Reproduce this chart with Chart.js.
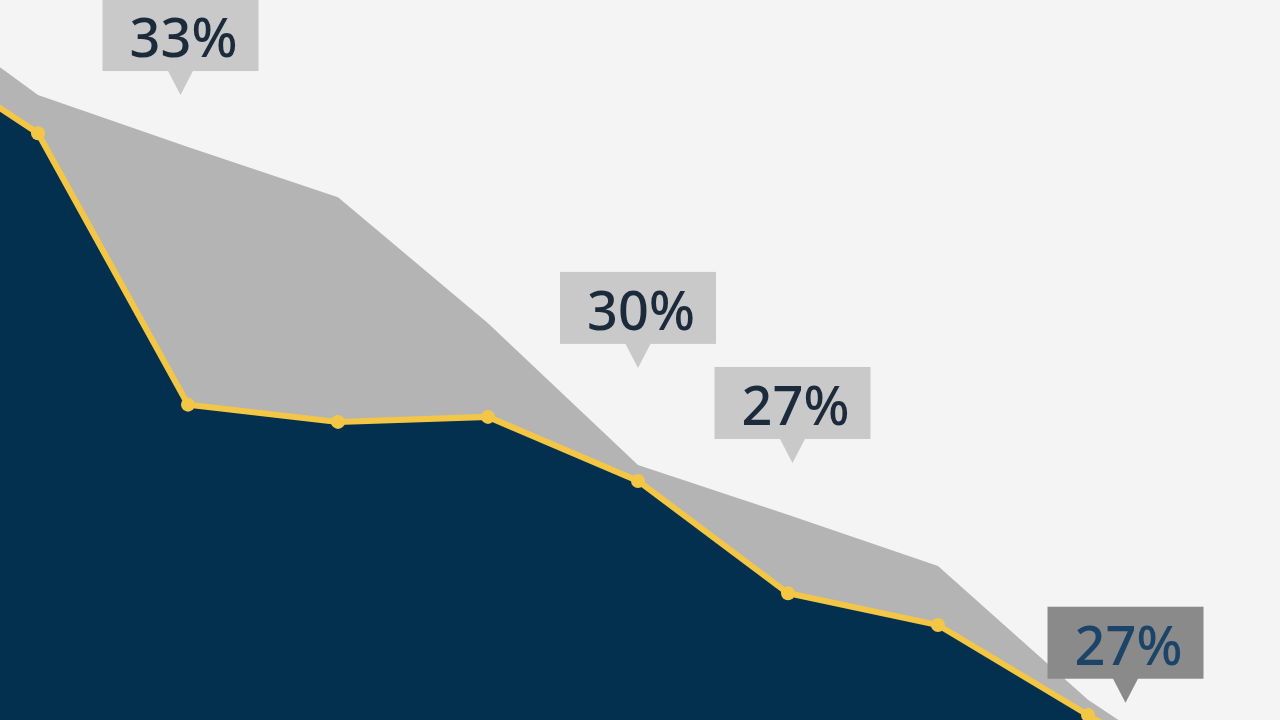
<!DOCTYPE html>
<html>
<head>
<meta charset="utf-8">
<script src="https://cdn.jsdelivr.net/npm/chart.js@4"></script>
<style>
  html, body { margin: 0; padding: 0; background: #f4f4f4; }
  #wrap { width: 1280px; height: 720px; position: relative; }
</style>
</head>
<body>
<div id="wrap"><canvas id="shareChart"></canvas></div>
<script>
// step positions (one point off each edge of the picture)
const steps = [-1, 0, 1, 2, 3, 4, 5, 6, 7, 8];
// upper band (grey) and main series (yellow line, navy area)
const upperValues = [102, 86.8, 79.6, 72.6, 55.1, 35.4, 28.5, 21.4, 2.8, -11];
const mainValues = [95.3, 81.5, 43.8, 41.4, 42.1, 33.2, 17.6, 13.2, 0.7, -11.8];
// callouts
const calloutText = ['33%', '30%', '27%', '27%'];
const calloutStep = [0.95, 4, 5.03, 7.25];
const calloutValue = [86.8, 48.9, 35.7, 2.4];

const calloutPlugin = {
    id: 'callouts',
    afterDatasetsDraw(chart) {
        const c = chart.ctx;
        const xs = chart.scales.x, ys = chart.scales.y;
        calloutText.forEach((txt, i) => {
            const tx = xs.getPixelForValue(calloutStep[i]);
            const ty = ys.getPixelForValue(calloutValue[i]);
            const dark = i === calloutText.length - 1;
            const w = 156, h = 72, tri = 24;
            const bx = tx - w / 2, by = ty - tri - h;
            c.save();
            c.fillStyle = dark ? '#8a8a8a' : '#c9c9c9';
            c.fillRect(bx, by, w, h);
            c.beginPath();
            c.moveTo(tx - 13, by + h - 1);
            c.lineTo(tx + 13, by + h - 1);
            c.lineTo(tx, ty);
            c.closePath();
            c.fill();
            c.fillStyle = dark ? '#1b4468' : '#1c2b3c';
            c.font = '500 54px "Noto Sans"';
            c.textAlign = 'center';
            c.textBaseline = 'middle';
            c.fillText(txt, tx + 3, by + h / 2 + 7);
            c.restore();
        });
    }
};

const ctx = document.getElementById('shareChart').getContext('2d');
const shareChart = new Chart(ctx, {
    type: 'line',
    data: {
        datasets: [{
            label: 'Upper',
            data: steps.map((s, i) => ({ x: s, y: upperValues[i] })),
            borderWidth: 0,
            pointRadius: 0,
            backgroundColor: '#b4b4b4',
            fill: '+1',
            tension: 0,
            order: 1
        }, {
            label: 'Share',
            data: steps.map((s, i) => ({ x: s, y: mainValues[i] })),
            borderColor: '#f3c745',
            backgroundColor: '#03304f',
            borderWidth: 6,
            pointRadius: 7,
            pointBackgroundColor: '#f3c745',
            pointBorderWidth: 0,
            fill: 'start',
            tension: 0,
            order: 0
        }]
    },
    options: {
        responsive: true,
        maintainAspectRatio: false,
        animation: false,
        layout: { padding: 0, autoPadding: false },
        scales: {
            x: { type: 'linear', display: false, min: -0.2533, max: 8.28 },
            y: { display: false, min: 0, max: 100 }
        },
        plugins: {
            legend: { display: false },
            tooltip: { enabled: false }
        }
    },
    plugins: [calloutPlugin]
});
</script>
</body>
</html>
